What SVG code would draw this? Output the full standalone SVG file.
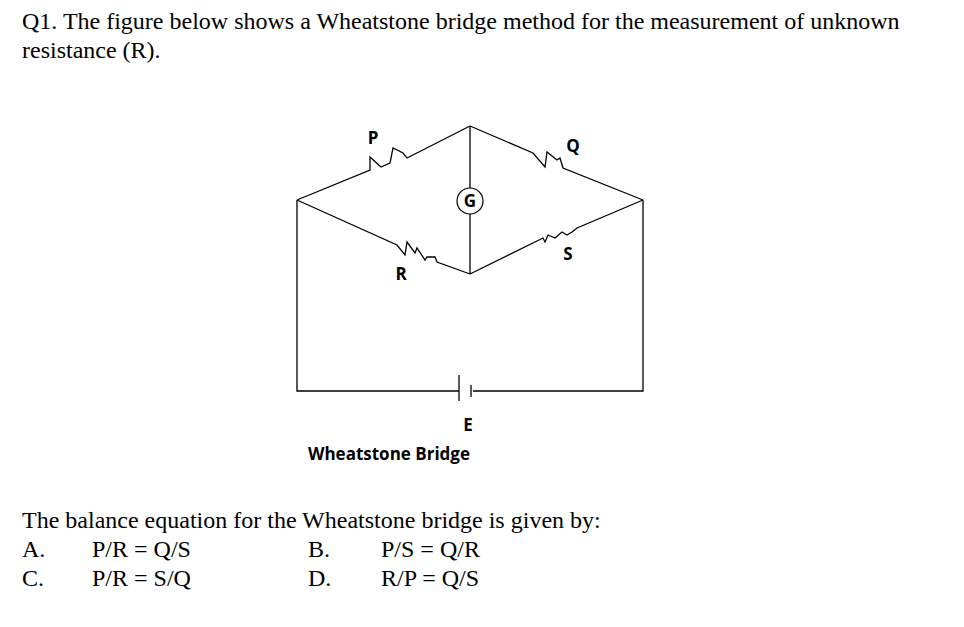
<svg xmlns="http://www.w3.org/2000/svg" width="964" height="627" viewBox="0 0 964 627">
<style>
.t{font-family:"Liberation Serif",serif;font-size:24px;fill:#000}
.l{font-family:"Open Sans","Liberation Sans",sans-serif;font-weight:bold;font-size:17px;fill:#000}
.w{stroke:#000;stroke-width:1.3;fill:none}
</style>
<rect width="964" height="627" fill="#fff"/>
<text class="t" x="22" y="29">Q1. The figure below shows a Wheatstone bridge method for the measurement of unknown</text>
<text class="t" x="22" y="58">resistance (R).</text>
<g id="connectors">
<polyline class="w" points="297,200 370,170 370,157 381,167 390,163 393,148 403,153 407,158 470,126"/>
<polyline class="w" points="470,126 533,153 545,167 547,152 557,160 560,158 563,168 643,200"/>
<polyline class="w" points="297,200 397,245 405,255 407,242 415,253 417,248 425,260 427,257 435,257 437,262 470,274"/>
<polyline class="w" points="470,274 543,238 545,242 548,235 555,238 562,232 567,235 572,232 577,228 643,200"/>
<line class="w" x1="470" y1="126" x2="470" y2="188"/>
<line class="w" x1="470" y1="214" x2="470" y2="274"/>
<polyline class="w" points="297,200 297,391 459,391"/>
<polyline class="w" points="473,391 643,391 643,200"/>
<line class="w" x1="459" y1="375" x2="459" y2="401"/>
<line class="w" x1="471" y1="385" x2="471" y2="397"/>
</g>
<g id="G"><circle cx="470" cy="201" r="13" fill="#fff" stroke="#000" stroke-width="1.2"/><text class="l" x="470" y="207" text-anchor="middle" font-size="16" font-weight="normal">G</text></g>
<g id="P"><text class="l" x="373" y="144" text-anchor="middle">P</text></g>
<g id="Q"><text class="l" x="573" y="152" text-anchor="middle">Q</text></g>
<g id="R"><text class="l" x="401" y="280" text-anchor="middle">R</text></g>
<g id="S"><text class="l" x="568" y="260" text-anchor="middle">S</text></g>
<g id="E"><text class="l" x="468" y="431" text-anchor="middle">E</text></g>
<text class="l" x="389" y="460" text-anchor="middle" font-size="21">Wheatstone Bridge</text>
<text class="t" x="22" y="528">The balance equation for the Wheatstone bridge is given by:</text>
<text class="t" x="22" y="557">A.</text><text class="t" x="92" y="557">P/R = Q/S</text>
<text class="t" x="308" y="557">B.</text><text class="t" x="381" y="557">P/S = Q/R</text>
<text class="t" x="22" y="586">C.</text><text class="t" x="92" y="586">P/R = S/Q</text>
<text class="t" x="308" y="586">D.</text><text class="t" x="381" y="586">R/P = Q/S</text>
</svg>
